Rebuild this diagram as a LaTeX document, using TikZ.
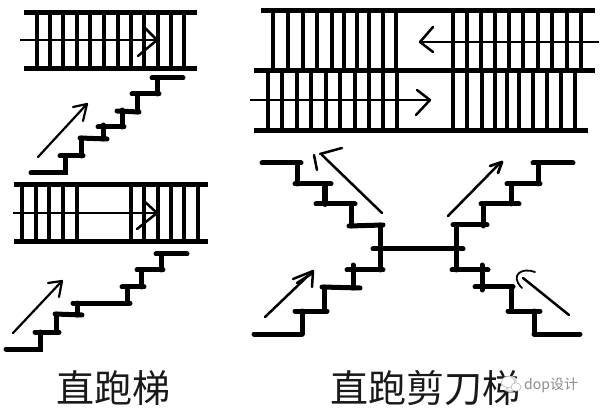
\documentclass[tikz,border=0pt]{standalone}
\usepackage{fontspec}
\newfontfamily\cjk{Noto Sans CJK SC}
\tikzset{
  rail/.style={line width=5pt,black},
  tread/.style={line width=3.8pt,black},
  midline/.style={line width=2.6pt,black},
  stairline/.style={line width=5pt,black,line cap=round},
  pen/.style={line width=2.5pt,black,line cap=round,line join=round},
  title/.style={font=\cjk\fontsize{38}{40}\selectfont,inner sep=0pt,text=black!90},
  mark text/.style={font=\cjk\fontsize{14}{15}\selectfont,inner sep=0pt,text=black!45},
}
\begin{document}
\begin{tikzpicture}[x=1pt,y=-1pt]
\useasboundingbox (0,0) rectangle (600,414);
\fill[white] (0,0) rectangle (600,414);

% ---- left plan 1
\foreach \x in {37,50,63,77,90,104,118,131,144,158,171,184}
  \draw[tread] (\x,13) -- (\x,69);
\draw[rail] (24,13) -- (197,13);
\draw[rail] (24,69) -- (197,69);
\draw[midline] (20,40) -- (157,40);
\draw[pen] (145,28) -- (157,40) -- (138,56);

% ---- left section 1
\draw[stairline] (31,173) -- (65,173) -- (65,156);
\draw[stairline] (60,156) -- (83,156);
\draw[stairline] (81,156) -- (81,138);
\draw[stairline] (80,138) -- (107,139);
\draw[stairline] (103,139) -- (103,125);
\draw[stairline] (98,127) -- (124,127) ;
\draw[stairline] (122,127) -- (122,110);
\draw[stairline] (117,111) -- (139,112);
\draw[stairline] (137,112) -- (137,94);
\draw[stairline] (132,94) -- (159,94);
\draw[stairline] (157,94) -- (157,78);
\draw[stairline] (152,78) -- (183,78);
\draw[pen,line width=2.2pt] (38,157) -- (87,104);
\draw[pen,line width=2.2pt] (73,107) -- (87,104) -- (83,121);

% ---- left plan 2
\foreach \x in {22,36,49,63,77,131,144,158,171,184,198}
  \draw[tread] (\x,185) -- (\x,242);
\draw[rail] (14,185) -- (208,185);
\draw[rail] (14,242) -- (208,242);
\draw[midline] (13,213) -- (157,213);
\draw[pen] (144,201) -- (157,213) -- (137,229);

% ---- left section 2
\draw[stairline] (6,349) -- (40,349) -- (40,332);
\draw[stairline] (35,332) -- (59,332);
\draw[stairline] (56,332) -- (56,314);
\draw[stairline] (55,314) -- (82,315);
\draw[stairline] (77,315) -- (77,303);
\draw[stairline] (73,303) -- (130,303);
\draw[stairline] (127,303) -- (127,287);
\draw[stairline] (122,287) -- (144,287);
\draw[stairline] (141,287) -- (141,270);
\draw[stairline] (137,270) -- (163,270);
\draw[stairline] (161,270) -- (161,254);
\draw[stairline] (156,254) -- (187,254);
\draw[pen,line width=2.2pt] (13,333) -- (62,281);
\draw[pen,line width=2.2pt] (48,283) -- (62,281) -- (59,297);

% ---- right plan
\foreach \x in {273,288,303,317,332,344,357,369,383,396,453,467,481,495,509,523,538,552,567,581}
  \draw[tread] (\x,11) -- (\x,71);
\foreach \x in {268,282,297,311,326,340,355,369,383,397,453,467,482,495,507,519,533,547,561,575}
  \draw[tread] (\x,71) -- (\x,131);
\draw[rail] (261,11) -- (595,11);
\draw[rail] (254,71) -- (595,71);
\draw[rail] (254,131) -- (588,131);
\draw[midline] (420,42) -- (599,42);
\draw[pen] (433,27) -- (420,42) -- (433,52);
\draw[midline] (250,100) -- (430,100);
\draw[pen] (417,90) -- (430,100) -- (416,115);

% ---- scissor section, left half
\draw[stairline] (262,163) -- (301,163);
\draw[stairline] (297,163) -- (297,184);
\draw[stairline] (295,184) -- (331,184);
\draw[stairline,line width=6pt] (325,184) -- (325,204);
\draw[stairline] (316,204) -- (355,204);
\draw[stairline] (351,204) -- (351,226);
\draw[stairline] (349,226) -- (383,225);
\draw[stairline] (380,225) -- (380,270);
\draw[stairline] (373,249) -- (463,249);
\draw[stairline] (347,270) -- (383,270);
\draw[stairline] (353,265) -- (353,288);
\draw[stairline] (322,287) -- (360,288);
\draw[stairline] (324,287) -- (324,311);
\draw[stairline] (295,311) -- (327,311);
\draw[stairline] (302,311) -- (302,334);
\draw[stairline] (254,334) -- (302,334);
\draw[pen] (382,213) -- (322,155);
\draw[pen] (342,148) -- (320,154);
\draw[pen] (314,155) -- (317,170);
\draw[pen] (265,317) -- (313,271);
\draw[pen] (293,279) -- (313,271) -- (312,287);
\draw[pen] (297,283) -- (311,274);

% ---- scissor section, right half
\draw[stairline] (533,163) -- (573,163);
\draw[stairline] (538,163) -- (538,184);
\draw[stairline] (507,184) -- (540,184);
\draw[stairline] (511,184) -- (511,204);
\draw[stairline] (481,204) -- (519,204);
\draw[stairline] (483,204) -- (483,226);
\draw[stairline] (453,225) -- (487,225);
\draw[stairline] (456,225) -- (456,270);
\draw[stairline] (452,270) -- (488,270);
\draw[stairline] (482,265) -- (482,290);
\draw[stairline] (475,287) -- (513,287);
\draw[stairline] (511,287) -- (511,311);
\draw[stairline] (508,311) -- (540,311);
\draw[stairline] (534,311) -- (534,334);
\draw[stairline] (534,334) -- (580,334);
\draw[pen] (448,216) -- (500,163);
\draw[pen,line width=2.8pt] (490,166) -- (502,162) -- (498,173);
\draw[pen] (569,315) -- (523,278);
\draw[pen,line width=1.8pt] (535,272) .. controls (522,267) and (509,275) .. (522,288);

% ---- captions
\node[title,anchor=center] (leftcap) at (113.5,388.5) {直跑梯};
\node[title,anchor=center] (rightcap) at (425,388.5) {直跑剪刀梯};

% ---- watermark
\fill[white,opacity=.85] (510,384) ellipse (9pt and 8pt);
\fill[white,draw=black!30,line width=.5pt] (508,382) ellipse (6.5pt and 5.5pt);
\fill[white,draw=black!30,line width=.5pt] (516,387) ellipse (5pt and 4.2pt);
\node[mark text,anchor=west] (wm) at (524,385) {dop设计};
\end{tikzpicture}
\end{document}
